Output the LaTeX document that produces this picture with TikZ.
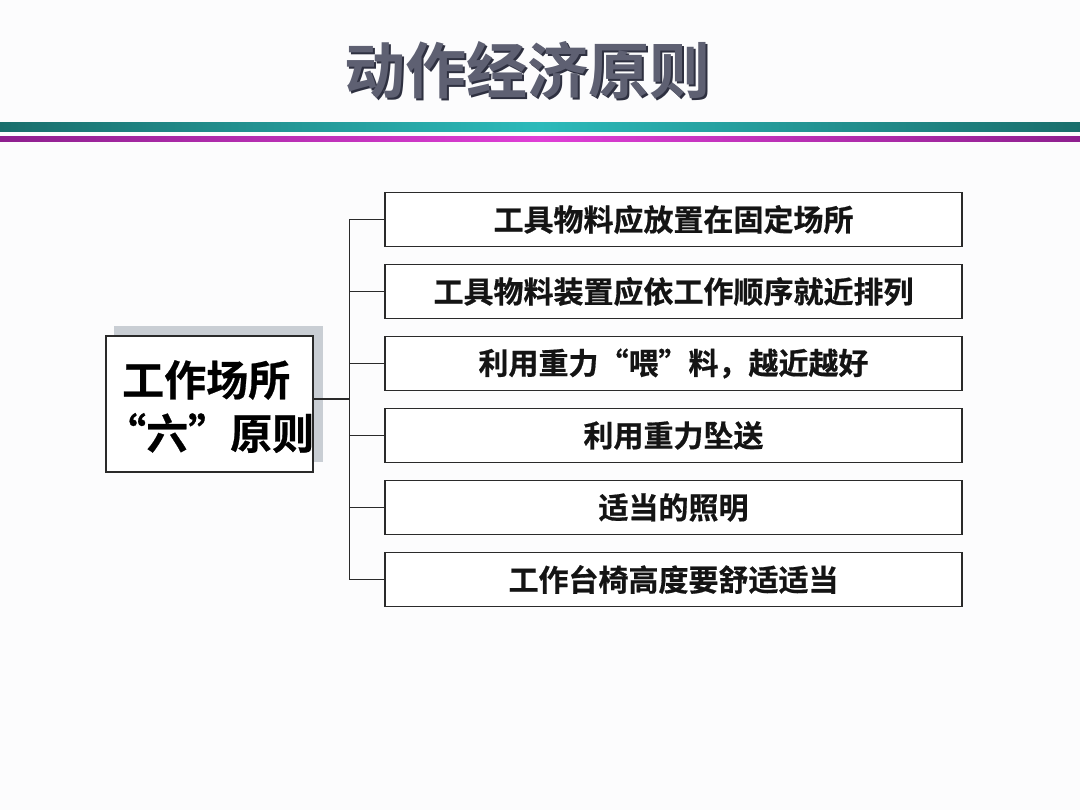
\documentclass[tikz,border=0pt]{standalone}
\usepackage{fontspec}
\newfontfamily\cjk{Noto Sans CJK SC}[BoldFont=* Bold]
\newfontfamily\cjkheavy{Noto Sans CJK SC Bold}[FakeBold=0.6]
\usetikzlibrary{calc}
\definecolor{bgc}{HTML}{FCFCFD}
\definecolor{titlec}{HTML}{5E6072}
\definecolor{titlesh}{HTML}{2E3040}
\definecolor{tealdark}{HTML}{1A6E6C}
\definecolor{teallight}{HTML}{2BBABA}
\definecolor{magdark}{HTML}{8E1F8E}
\definecolor{maglight}{HTML}{E03ED6}
\definecolor{shadowc}{HTML}{C9CED4}
\definecolor{linec}{HTML}{2A2A2A}
\tikzset{
  itembox/.style={draw=linec, line width=1.4pt, fill=white, minimum width=577pt, minimum height=54pt, inner sep=0pt,
    font=\cjkheavy\fontsize{30}{33}\selectfont, text=black!92},
  mainbox/.style={draw=linec, line width=1.4pt, fill=white, minimum width=207pt, minimum height=136pt, inner sep=0pt},
  maintext/.style={anchor=west, inner sep=0pt, font=\cjkheavy\fontsize{42}{50}\selectfont, text=black},
  conn/.style={draw=linec, line width=1.3pt}
}
\begin{document}
\begin{tikzpicture}[x=1pt, y=-1pt]
\useasboundingbox (0,0) rectangle (1080,810);
\fill[bgc] (0,0) rectangle (1080,810);
% title
\node[font=\cjk\bfseries\fontsize{61}{70}\selectfont, text=titlesh] (titlesh) at (529.5,72) {动作经济原则};
\node[font=\cjk\bfseries\fontsize{61}{70}\selectfont, text=titlec] (title) at (527.5,70) {动作经济原则};
% bars
\shade[left color=tealdark, right color=tealdark, middle color=teallight] (0,123) rectangle (1080,132);
\shade[left color=magdark, right color=magdark, middle color=maglight] (0,137) rectangle (1080,142);
% main box with shadow
\fill[shadowc] (114,326) rectangle (323,462);
\node[mainbox] (main) at (209.5,404) {};
\node[maintext] (l1) at (122,380) {工作场所};
\node[maintext] (l2) at (104,433) {“六”原则};
% items
\node[itembox] (b1) at (673.5,219.5) {工具物料应放置在固定场所};
\node[itembox] (b2) at (673.5,291.5) {工具物料装置应依工作顺序就近排列};
\node[itembox] (b3) at (673.5,363.5) {利用重力“喂”料，越近越好};
\node[itembox] (b4) at (673.5,435.5) {利用重力坠送};
\node[itembox] (b5) at (673.5,507.5) {适当的照明};
\node[itembox] (b6) at (673.5,579.5) {工作台椅高度要舒适适当};
% connectors
\coordinate (trunk) at (349.5,399);
\draw[conn] (trunk -| main.east) -- (trunk);
\draw[conn] (b1.west -| trunk) -- (b6.west -| trunk);
\foreach \b in {b1,b2,b3,b4,b5,b6} {
  \draw[conn] (\b.west -| trunk) -- (\b.west);
}
\end{tikzpicture}
\end{document}
